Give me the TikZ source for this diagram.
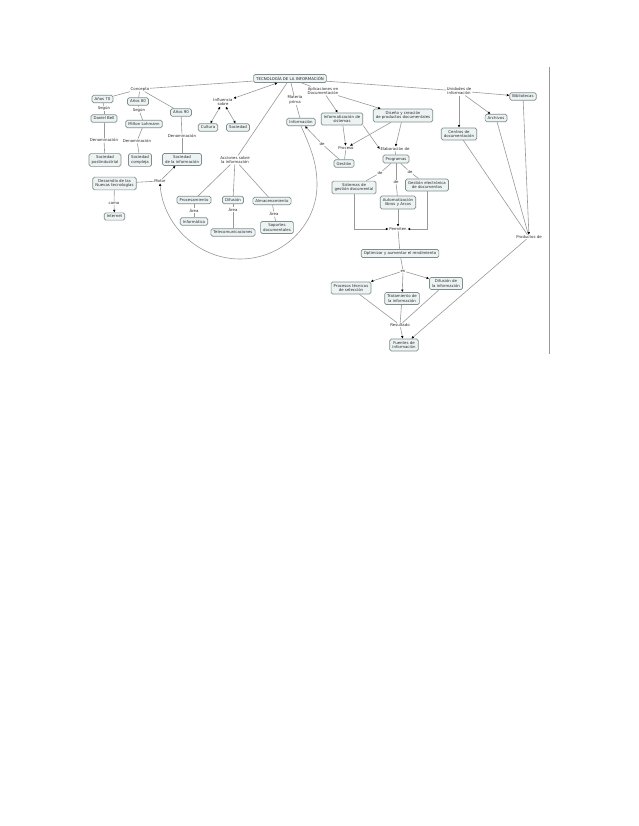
\documentclass[tikz,border=0pt]{standalone}
\usepackage{fontspec}
\setmainfont{DejaVu Sans}
\usetikzlibrary{arrows.meta}
\definecolor{boxfill}{HTML}{EDF3F3}
\definecolor{boxdraw}{HTML}{7F8F8F}
\definecolor{linec}{HTML}{999999}
\definecolor{txt}{HTML}{2A2A2A}
\tikzset{
 concept/.style={draw=boxdraw, fill=boxfill, rounded corners=1.6pt, line width=0.7pt, inner xsep=2.6pt, inner ysep=2.2pt, align=center, font=\fontsize{3.9}{4.6}\selectfont, text=txt},
 lbl/.style={fill=white, inner sep=0.6pt, align=center, font=\fontsize{3.9}{4.6}\selectfont, text=txt},
 conn/.style={draw=linec, line width=0.6pt},
 arr/.style={conn, -{Latex[length=2.6pt,width=2.6pt,color=black]}},
 darr/.style={conn, {Latex[length=2.6pt,width=2.6pt,color=black]}-{Latex[length=2.6pt,width=2.6pt,color=black]}},
}
\begin{document}
\begin{tikzpicture}[x=1pt,y=-1pt]
\useasboundingbox[fill=white] (0,0) rectangle (638,826);
% nodes
\node[concept] (tec) at (290,78.5) {TECNOLOGÍA DE LA INFORMACIÓN};
\node[lbl] (concepto) at (140,89) {Concepto};
\node[concept] (a70) at (102.5,99) {Años 70};
\node[concept] (a80) at (138,101.5) {Años 80};
\node[concept] (a90) at (181,112.5) {Años 90};
\node[lbl] (seg1) at (104,108.5) {Según};
\node[lbl] (seg2) at (139,110) {Según};
\node[concept] (bell) at (104,118.5) {Daniel Bell};
\node[concept] (milton) at (144,124) {Milton Lohmann};
\node[lbl] (den1) at (104,140) {Denominación};
\node[lbl] (den2) at (137,141) {Denominación};
\node[lbl] (den3) at (182,136) {Denominación};
\node[concept] (spost) at (105,160) {Sociedad\\postindustrial};
\node[concept] (scomp) at (140,160) {Sociedad\\compleja};
\node[concept] (sinfo) at (182,159.5) {Sociedad\\de la información};
\node[concept] (desa) at (114.5,183.5) {Desarrollo de las\\Nuevas tecnologías};
\node[lbl] (motor) at (160,181) {Motor};
\node[lbl] (como) at (114,203) {como};
\node[concept] (internet) at (114.5,216.5) {Internet};
\node[lbl] (influ) at (223,102) {Influencia\\sobre};
\node[concept] (cultura) at (208,127.5) {Cultura};
\node[concept] (soc) at (238,127.5) {Sociedad};
\node[lbl] (acc) at (235,160) {Acciones sobre\\la información};
\node[concept] (proc) at (194,200) {Procesamiento};
\node[lbl] (area1) at (194,210.5) {Área};
\node[concept] (infor) at (194,221.5) {Informática};
\node[concept] (dif) at (233,200) {Difusión};
\node[lbl] (area2) at (233,209.5) {Área};
\node[concept] (tele) at (233,232.5) {Telecomunicaciones};
\node[concept] (alm) at (272,201) {Almacenamiento};
\node[lbl] (area3) at (274,214) {Área};
\node[concept] (sop) at (277,227.5) {Soportes\\documentales};
\node[lbl] (mat) at (295,100) {Materia\\prima};
\node[concept] (info) at (301,122) {Información};
\node[lbl] (apl) at (323,91) {Aplicaciones en\\Documentación};
\node[concept] (infz) at (342,119) {Informatización de\\sistemas};
\node[concept] (dis) at (403,115.5) {Diseño y creación\\de productos documentales};
\node[lbl] (proce) at (346,148) {Proceso};
\node[concept] (gest) at (344,163.5) {Gestión};
\node[lbl] (de0) at (322,144) {de};
\node[lbl] (elab) at (395,149) {Elaboración de};
\node[concept] (prog) at (396,159) {Programas};
\node[lbl] (de1) at (380,173) {de};
\node[lbl] (de2) at (396,182) {de};
\node[lbl] (de3) at (410,172) {de};
\node[concept] (sist) at (354,187.5) {Sistemas de\\gestión documental};
\node[concept] (auto) at (398,202.5) {Automatización\\libros y Arcos};
\node[concept] (gel) at (427,185) {Gestión electrónica\\de documentos};
\node[lbl] (perm) at (398,229) {Permiten};
\node[concept] (opt) at (400,253.5) {Optimizar y aumentar el rendimiento};
\node[lbl] (en) at (403,271) {en};
\node[concept] (ptec) at (351,288) {Procesos técnicos\\de selección};
\node[concept] (trat) at (402,298.5) {Tratamiento de\\la información};
\node[concept] (difi) at (446,283.5) {Difusión de\\la información};
\node[lbl] (res) at (400,325) {Resultado};
\node[concept] (fuen) at (404,345) {Fuentes de\\información};
\node[lbl] (unid) at (459,91) {Unidades de\\información};
\node[concept] (bib) at (523,96.5) {Bibliotecas};
\node[concept] (arch) at (496,118) {Archivos};
\node[concept] (cent) at (459,134) {Centros de\\documentación};
\node[lbl] (prod) at (529,237) {Productos de};
\coordinate (vt) at (549,67);
\coordinate (vb) at (549,354);
% connectors
\draw[conn] (tec) -- (concepto);
\draw[conn] (concepto) -- (a70);
\draw[conn] (concepto) -- (a80);
\draw[conn] (concepto) -- (a90);
\draw[conn] (a70) -- (seg1); \draw[conn] (seg1) -- (bell);
\draw[conn] (a80) -- (seg2); \draw[conn] (seg2) -- (milton);
\draw[conn] (bell) -- (den1); \draw[conn] (den1) -- (spost);
\draw[conn] (milton) -- (den2); \draw[conn] (den2) -- (scomp);
\draw[conn] (a90) -- (den3); \draw[conn] (den3) -- (sinfo);
\draw[conn] (desa) -- (motor);
\draw[arr] (motor) -- (sinfo);
\draw[conn] (desa) -- (como);
\draw[arr] (como) -- (internet);
\draw[darr] (tec) -- (influ);
\draw[darr] (influ) -- (cultura);
\draw[darr] (influ) -- (soc);
\draw[conn] (tec) -- (acc);
\draw[conn] (acc) -- (proc);
\draw[conn] (acc) -- (dif);
\draw[conn] (acc) -- (alm);
\draw[conn] (proc) -- (area1); \draw[conn] (area1) -- (infor);
\draw[conn] (dif) -- (area2); \draw[conn] (area2) -- (tele);
\draw[conn] (alm) -- (area3); \draw[conn] (area3) -- (sop);
\draw[conn] (tec) -- (mat); \draw[conn] (mat) -- (info);
\draw[arr] (info.south) .. controls (312,150) and (317,165) .. (317,185) .. controls (317,225) and (282.5,259) .. (240,259) .. controls (197.5,259) and (163,224.5) .. (motor.south);
\draw[conn] (tec) -- (apl);
\draw[arr] (apl) -- (infz);
\draw[arr] (apl) -- (dis);
\draw[arr] (infz) -- (proce);
\draw[arr] (dis) -- (proce);
\draw[conn] (proce) -- (gest);
\draw[conn] (gest) -- (de0);
\draw[arr] (de0) -- (info);
\draw[arr] (infz.south east) -- (elab.west);
\draw[arr] (dis) -- (elab);
\draw[conn] (elab) -- (prog);
\draw[conn] (prog) -- (de1); \draw[conn] (de1) -- (sist);
\draw[conn] (prog) -- (de2); \draw[conn] (de2) -- (auto);
\draw[conn] (prog) -- (de3); \draw[conn] (de3) -- (gel);
\draw[arr] (sist.south) |- (perm.west);
\draw[arr] (auto) -- (perm);
\draw[arr] (gel.south) |- (perm.east);
\draw[conn] (perm) -- (opt);
\draw[conn] (opt) -- (en);
\draw[arr] (en) -- (ptec);
\draw[arr] (en) -- (trat);
\draw[arr] (en) -- (difi);
\draw[conn] (ptec) -- (res);
\draw[conn] (trat) -- (res);
\draw[conn] (difi) -- (res);
\draw[arr] (res) -- (fuen);
\draw[conn] (tec) -- (unid);
\draw[arr] (unid) -- (bib);
\draw[arr] (unid) -- (arch);
\draw[arr] (unid) -- (cent);
\draw[conn] (cent) -- (prod);
\draw[conn] (arch) -- (prod);
\draw[arr] (bib) -- (prod);
\draw[arr] (prod) -- (fuen);
\draw[draw=linec, line width=0.8pt] (vt) -- (vb);
\end{tikzpicture}
\end{document}
